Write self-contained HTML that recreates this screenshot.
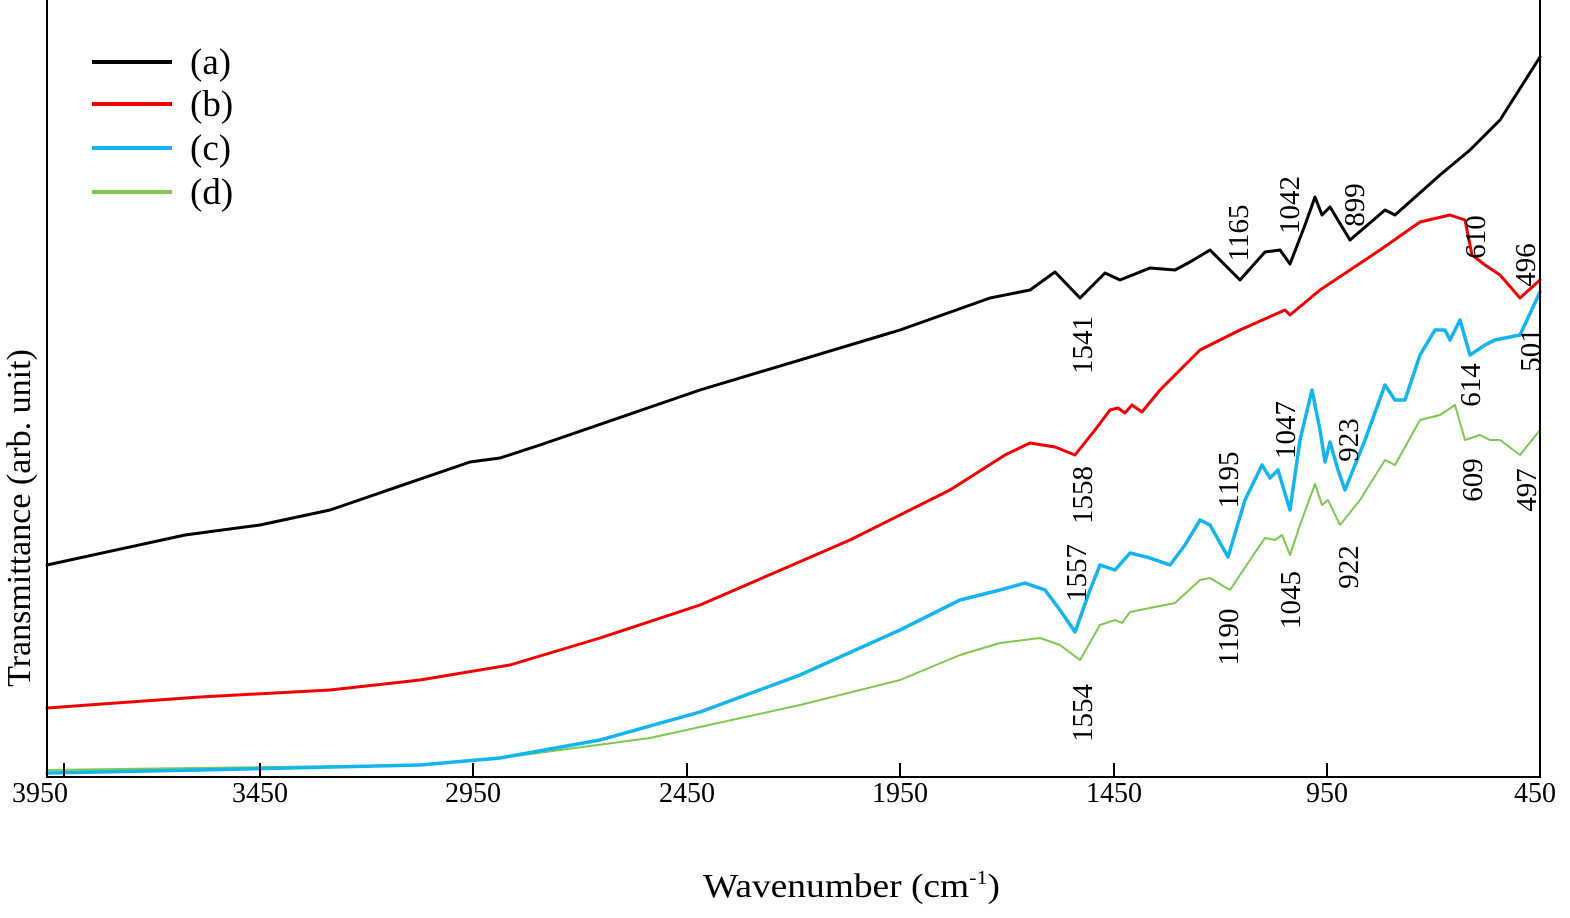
<!DOCTYPE html>
<html><head><meta charset="utf-8"><style>
body{margin:0;background:#fff}
svg text{font-family:"Liberation Serif",serif;fill:#000}
</style></head><body>
<svg width="1570" height="913" viewBox="0 0 1570 913" xmlns="http://www.w3.org/2000/svg">
<g fill="none" stroke-linejoin="round" stroke-linecap="round">
<polyline stroke="#7ec850" stroke-width="2" points="47,770 420,765 500,758 650,738 800,705 900,680 960,655 1000,643 1040,638 1060,645 1080,660 1100,625 1115,620 1122,623 1130,612 1150,608 1175,603 1200,580 1210,578 1230,590 1250,560 1265,538 1275,540 1282,535 1290,555 1300,525 1315,484 1322,505 1328,500 1340,525 1360,500 1385,460 1395,465 1420,420 1440,415 1455,405 1465,440 1480,435 1490,440 1500,440 1520,455 1540,430"/>
<polyline stroke="#14b4ee" stroke-width="3.5" points="47,773 200,770 420,765 500,758 600,740 700,712 800,675 900,630 960,600 1000,590 1025,583 1045,590 1060,610 1075,632 1090,590 1100,565 1115,570 1130,553 1150,558 1170,565 1185,545 1200,520 1210,525 1228,557 1245,500 1262,465 1270,478 1278,470 1290,510 1300,440 1312,390 1320,430 1325,462 1330,442 1338,470 1345,490 1365,440 1385,385 1395,400 1405,400 1420,355 1435,330 1445,330 1450,340 1460,320 1470,355 1485,345 1495,340 1520,335 1540,292"/>
<polyline stroke="#f00000" stroke-width="3" points="47,708 200,697 330,690 420,680 510,665 600,638 700,605 850,540 950,490 1005,455 1030,443 1055,447 1075,455 1095,430 1110,410 1118,408 1125,413 1132,405 1142,412 1160,390 1200,350 1240,330 1285,310 1290,315 1320,290 1380,250 1420,222 1450,215 1465,220 1472,255 1485,265 1500,275 1520,298 1540,280"/>
<polyline stroke="#000" stroke-width="3" points="47,565 185,535 260,525 330,510 470,462 500,458 540,445 700,390 900,330 990,298 1030,290 1055,272 1080,298 1105,273 1120,280 1150,268 1175,270 1190,262 1210,250 1240,280 1265,252 1280,250 1290,264 1305,225 1315,197 1322,215 1330,207 1350,240 1385,210 1395,215 1440,175 1470,150 1500,120 1540,57"/>
</g>
<g stroke="#000" stroke-width="2" fill="none">
<polyline points="47,0 47,777 1540,777 1540,0"/>
<path d="M64,777v-14M260,777v-14M473,777v-14M687,777v-14M900,777v-14M1114,777v-14M1327,777v-14"/>
</g>
<g font-size="28" text-anchor="middle">
<text x="40" y="802">3950</text><text x="260" y="802">3450</text><text x="473" y="802">2950</text><text x="687" y="802">2450</text><text x="900" y="802">1950</text><text x="1114" y="802">1450</text><text x="1327" y="802">950</text><text x="1535" y="802">450</text>
</g>
<text x="703" y="897" font-size="34" textLength="297" lengthAdjust="spacingAndGlyphs">Wavenumber (cm<tspan font-size="20" dy="-13">-1</tspan><tspan dy="13">)</tspan></text>
<text transform="translate(30,518) rotate(-90)" font-size="34" text-anchor="middle">Transmittance (arb. unit)</text>
<g stroke-width="4">
<line x1="92" y1="62" x2="172" y2="62" stroke="#000"/>
<line x1="92" y1="104" x2="172" y2="104" stroke="#f00000"/>
<line x1="92" y1="148" x2="172" y2="148" stroke="#14b4ee"/>
<line x1="92" y1="192" x2="172" y2="192" stroke="#7ec850"/>
</g>
<g font-size="37">
<text x="190" y="74">(a)</text><text x="190" y="116">(b)</text><text x="190" y="160">(c)</text><text x="190" y="204">(d)</text>
</g>
<g font-size="29" text-anchor="middle">
<text transform="translate(1092,345) rotate(-90)">1541</text>
<text transform="translate(1248,233) rotate(-90)">1165</text>
<text transform="translate(1299,205) rotate(-90)">1042</text>
<text transform="translate(1364,205) rotate(-90)">899</text>
<text transform="translate(1485,237) rotate(-90)">610</text>
<text transform="translate(1535,265) rotate(-90)">496</text>
<text transform="translate(1092,495) rotate(-90)">1558</text>
<text transform="translate(1086,573) rotate(-90)">1557</text>
<text transform="translate(1238,480) rotate(-90)">1195</text>
<text transform="translate(1295,430) rotate(-90)">1047</text>
<text transform="translate(1358,440) rotate(-90)">923</text>
<text transform="translate(1480,385) rotate(-90)">614</text>
<text transform="translate(1540,350) rotate(-90)">501</text>
<text transform="translate(1482,480) rotate(-90)">609</text>
<text transform="translate(1536,490) rotate(-90)">497</text>
<text transform="translate(1238,637) rotate(-90)">1190</text>
<text transform="translate(1300,600) rotate(-90)">1045</text>
<text transform="translate(1358,567) rotate(-90)">922</text>
<text transform="translate(1092,713) rotate(-90)">1554</text>
</g>
</svg>
</body></html>
